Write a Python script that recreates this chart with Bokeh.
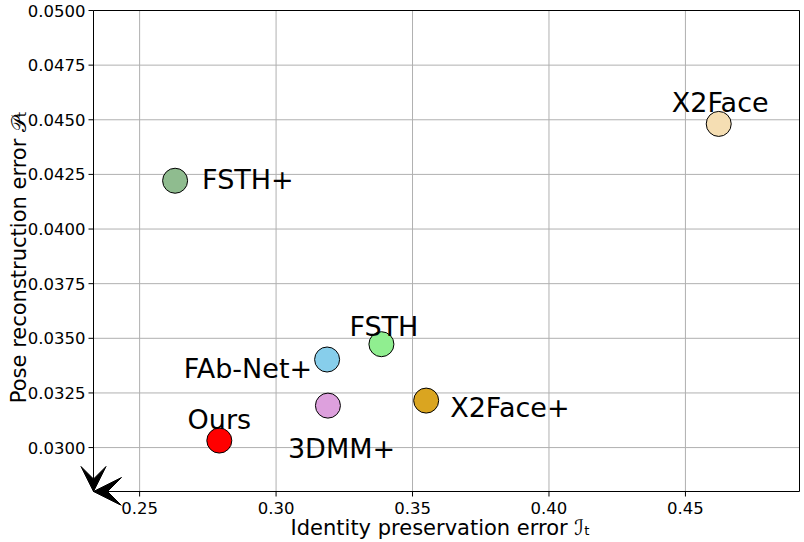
from bokeh.plotting import figure
from bokeh.models import (ColumnDataSource, FixedTicker, PrintfTickFormatter,
                          Range1d, Arrow, VeeHead)
from bokeh.core.properties import value
from bokeh.embed import file_html
from bokeh.resources import INLINE

# ---------------- data ----------------
methods = ["Ours", "3DMM+", "FAb-Net+", "FSTH", "X2Face+", "FSTH+", "X2Face"]
identity_err = [0.2792, 0.3190, 0.3187, 0.3386, 0.3550, 0.2630, 0.4622]
pose_err = [0.03032, 0.03192, 0.03403, 0.03473, 0.03215, 0.04221, 0.04481]
colors = ["#ff0000", "#dda0dd", "#87ceeb", "#90ee90", "#daa520", "#8fbc8f", "#f5deb3"]

x_ticks = [0.25, 0.30, 0.35, 0.40, 0.45]
y_ticks = [0.0300, 0.0325, 0.0350, 0.0375, 0.0400, 0.0425, 0.0450, 0.0475, 0.0500]
x_limits = (0.2331, 0.4918)
y_limits = (0.02799, 0.0500)

x_title = "Identity preservation error \u2110\u209c"
y_title = "Pose reconstruction error \U0001D4AB\u209c"

# label placement (screen px relative to the marker): align, dx, dy
label_place = {
    "Ours": ("center", 0, -21.5),
    "3DMM+": ("left", -40, 43),
    "FAb-Net+": ("right", -15, 9),
    "FSTH": ("center", 2.5, -17.7),
    "X2Face+": ("left", 24, 6.7),
    "FSTH+": ("left", 27, -1),
    "X2Face": ("center", 1.5, -21.6),
}

FONT = "DejaVu Sans"
W, H = 804, 542
# visible axes box in page pixels: x 93..799, y 10..491
BOX_W, BOX_H = 706, 481
PAD_L, PAD_B, PAD_R, PAD_T = 14, 14, 2, 2     # frame extends past the box
BL, BR, BT, BB = 93 - PAD_L, W - 799 - PAD_R, 10 - PAD_T, H - 491 - PAD_B

x0, x1 = x_limits
y0, y1 = y_limits
px_x = (x1 - x0) / BOX_W
px_y = (y1 - y0) / BOX_H

src = ColumnDataSource(dict(
    x=identity_err, y=pose_err, name=methods, color=colors,
    align=[label_place[m][0] for m in methods],
    dx=[label_place[m][1] for m in methods],
    dy=[label_place[m][2] for m in methods],
))

p = figure(width=W, height=H,
           x_range=Range1d(x0 - PAD_L * px_x, x1 + PAD_R * px_x),
           y_range=Range1d(y0 - PAD_B * px_y, y1 + PAD_T * px_y),
           output_backend="svg", toolbar_location=None,
           min_border_left=BL, min_border_right=BR,
           min_border_top=BT, min_border_bottom=BB)

p.background_fill_color = "white"
p.border_fill_color = "white"
p.outline_line_color = None
p.grid.visible = False

for ax in (p.xaxis[0], p.yaxis[0]):
    ax.axis_line_color = None
    ax.major_tick_line_color = None
    ax.major_tick_out = 0
    ax.major_tick_in = 0
    ax.minor_tick_line_color = None
    ax.major_label_text_font = FONT
    ax.major_label_text_font_size = "16.5px"
    ax.major_label_text_color = "black"
    ax.axis_label_text_font = FONT
    ax.axis_label_text_font_size = "21px"
    ax.axis_label_text_font_style = "normal"
    ax.axis_label_text_color = "black"

p.xaxis[0].major_label_standoff = -4
p.xaxis[0].axis_label_standoff = -1
p.yaxis[0].major_label_standoff = -6
p.yaxis[0].axis_label_standoff = -6
p.xaxis[0].axis_label = x_title
p.yaxis[0].axis_label = y_title

p.xaxis[0].ticker = FixedTicker(ticks=x_ticks)
p.yaxis[0].ticker = FixedTicker(ticks=y_ticks)
p.xaxis[0].formatter = PrintfTickFormatter(format="%.2f")
p.yaxis[0].formatter = PrintfTickFormatter(format="%.4f")

# grid lines inside the axes box
p.segment(x0=x_ticks, y0=[y0] * len(x_ticks), x1=x_ticks, y1=[y1] * len(x_ticks),
          line_color="#b0b0b0", line_width=1)
p.segment(x0=[x0] * len(y_ticks), y0=y_ticks, x1=[x1] * len(y_ticks), y1=y_ticks,
          line_color="#b0b0b0", line_width=1)

# tick marks (outward, 5px)
tick = 5
p.segment(x0=x_ticks, y0=[y0] * len(x_ticks), x1=x_ticks,
          y1=[y0 - tick * px_y] * len(x_ticks), line_color="black", line_width=1)
p.segment(x0=[x0] * len(y_ticks), y0=y_ticks, x1=[x0 - tick * px_x] * len(y_ticks),
          y1=y_ticks, line_color="black", line_width=1)

# axes box
p.quad(left=[x0], right=[x1], bottom=[y0], top=[y1], fill_color=None,
       line_color="black", line_width=1)

p.scatter(x="x", y="y", size=25, fill_color="color", line_color="black",
          line_width=1, source=src)

p.text(x="x", y="y", text="name", x_offset="dx", y_offset="dy",
       text_align="align", text_baseline="alphabetic",
       text_font=value(FONT), text_font_size="27px", text_color="black",
       source=src)

# arrows pointing to the lower-left corner
p.add_layout(Arrow(end=VeeHead(size=25, fill_color="black", line_color="black"),
                   x_start=x0, y_start=y0 + 40 * px_y,
                   x_end=x0, y_end=y0, line_alpha=0))
p.add_layout(Arrow(end=VeeHead(size=28, fill_color="black", line_color="black"),
                   x_start=x0 + 40 * px_x, y_start=y0,
                   x_end=x0, y_end=y0, line_alpha=0))

open("out.html", "w").write(file_html(p, INLINE))
